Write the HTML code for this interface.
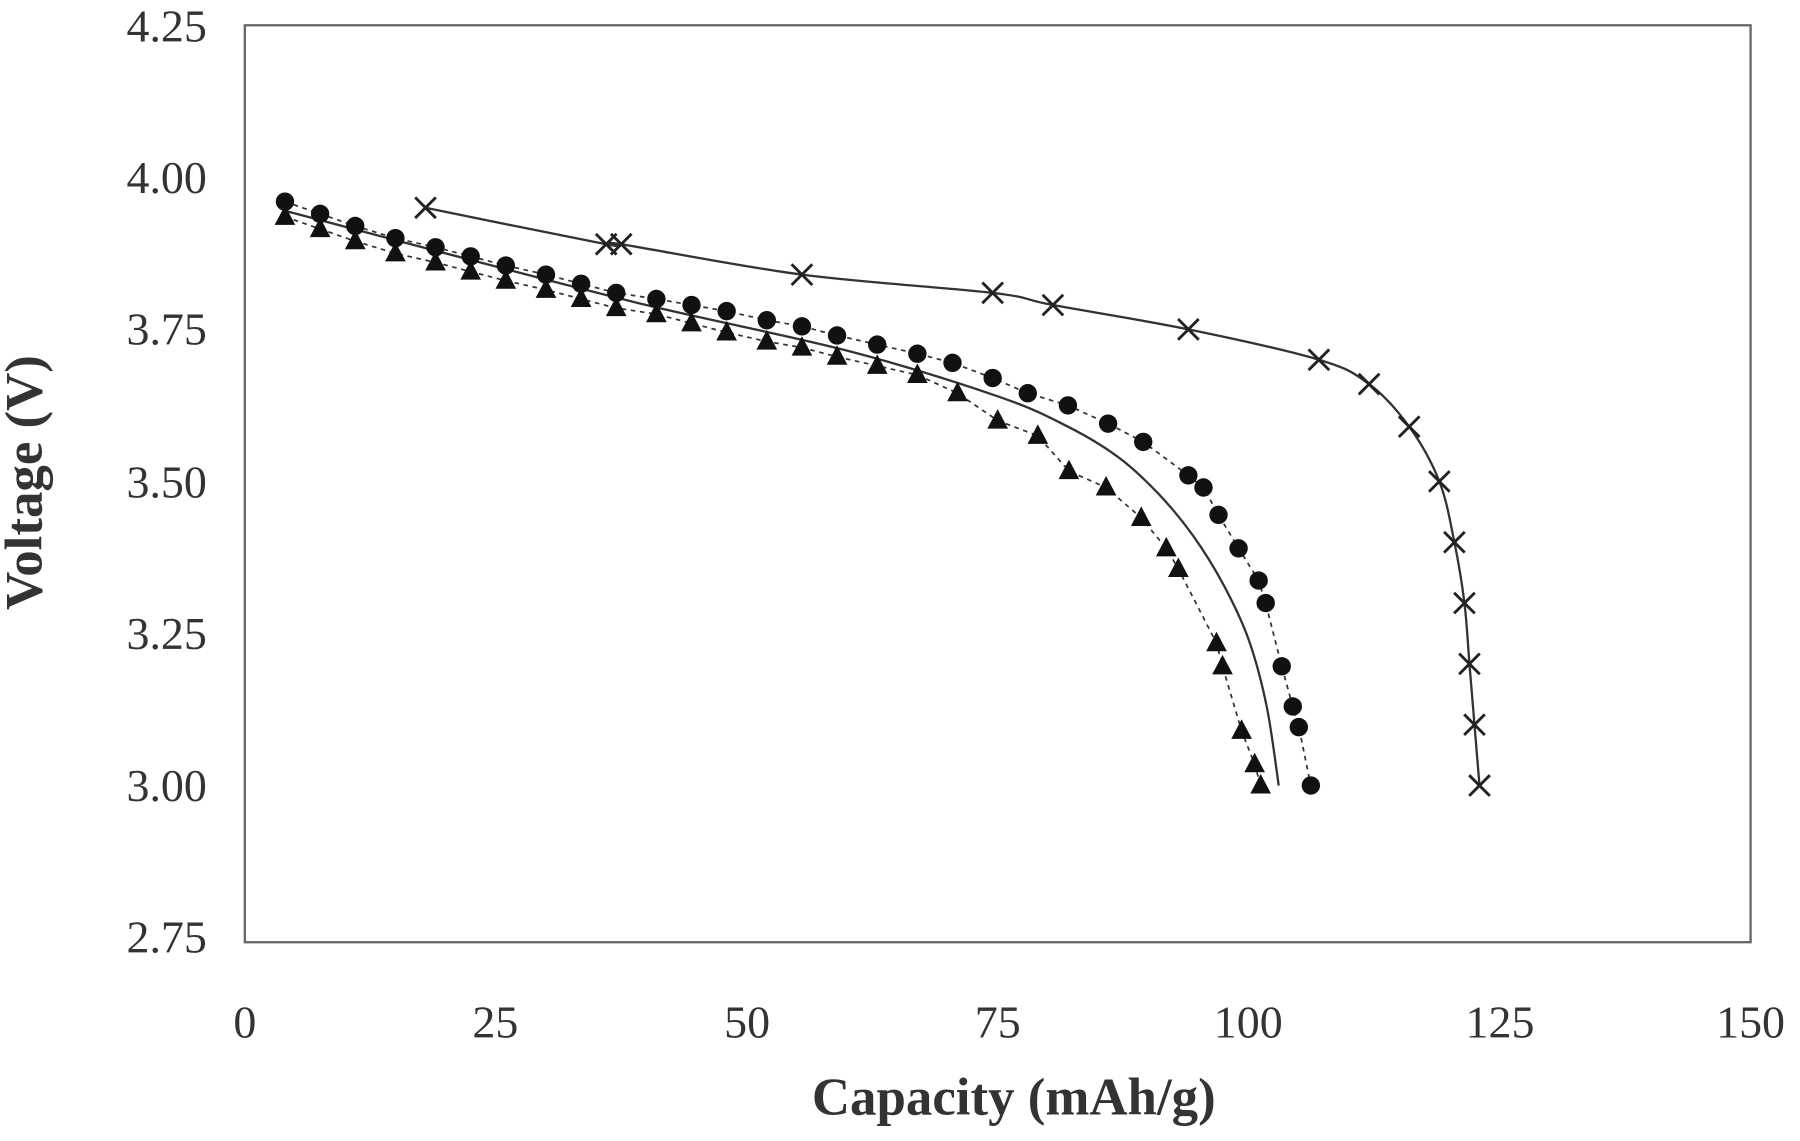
<!DOCTYPE html>
<html><head><meta charset="utf-8"><style>
html,body{margin:0;padding:0;background:#fff;width:1800px;height:1141px;overflow:hidden}
svg{display:block}
text{font-family:"Liberation Serif",serif;fill:#333}
</style></head><body>
<svg id="s" width="1800" height="1141" viewBox="0 0 1566 993" preserveAspectRatio="none">
<rect x="213" y="22" width="1310" height="798" fill="none" stroke="#666" stroke-width="2"/>
<g font-size="40" text-anchor="end">
<text x="180" y="36">4.25</text><text x="180" y="168">4.00</text><text x="180" y="300">3.75</text>
<text x="180" y="433">3.50</text><text x="180" y="565">3.25</text><text x="180" y="697">3.00</text><text x="180" y="829">2.75</text>
</g>
<g font-size="40" text-anchor="middle">
<text x="213" y="903">0</text><text x="431" y="903">25</text><text x="650" y="903">50</text><text x="868" y="903">75</text>
<text x="1086" y="903">100</text><text x="1305" y="903">125</text><text x="1523" y="903">150</text>
</g>
<text x="882" y="970" font-size="46" font-weight="bold" text-anchor="middle">Capacity (mAh/g)</text>
<text transform="translate(36,420) rotate(-90)" font-size="46" font-weight="bold" text-anchor="middle">Voltage (V)</text>
<g id="g"></g>
</svg>
<script>
const X=v=>213+8.733*v, Y=v=>22+(4.25-v)*529.3;
const g=document.getElementById('g');let h='';
const cross=[[18,3.95],[36,3.89],[37.5,3.89],[55.5,3.84],[74.5,3.81],[80.5,3.79],[94,3.75],[107,3.70],[112,3.66],[116,3.59],[119,3.50],[120.5,3.40],[121.5,3.30],[122,3.20],[122.5,3.10],[123,3.00]];
const circ=[[4,3.96],[7.5,3.94],[11,3.92],[15,3.90],[19,3.885],[22.5,3.87],[26,3.855],[30,3.84],[33.5,3.825],[37,3.81],[41,3.80],[44.5,3.79],[48,3.78],[52,3.765],[55.5,3.755],[59,3.74],[63,3.725],[67,3.71],[70.5,3.695],[74.5,3.67],[78,3.645],[82,3.625],[86,3.595],[89.5,3.565],[94,3.51],[95.5,3.49],[97,3.445],[99,3.39],[101,3.337],[101.7,3.30],[103.3,3.196],[104.4,3.13],[105,3.096],[106.2,3.00]];
const tri=[[4,3.935],[7.5,3.915],[11,3.895],[15,3.875],[19,3.86],[22.5,3.845],[26,3.83],[30,3.815],[33.5,3.80],[37,3.785],[41,3.775],[44.5,3.76],[48,3.745],[52,3.73],[55.5,3.72],[59,3.705],[63,3.69],[67,3.675],[71,3.645],[75,3.60],[79,3.575],[82.1,3.517],[85.8,3.49],[89.3,3.44],[91.8,3.39],[93,3.356],[96.8,3.234],[97.4,3.196],[99.3,3.09],[100.6,3.035],[101.2,3.00]];
const mid=[[4,3.945],[20,3.875],[40,3.79],[60,3.715],[75,3.64],[82,3.59],[87,3.54],[91,3.48],[94.5,3.41],[97.5,3.33],[100,3.24],[101.8,3.13],[103,3.00]];
const pl=a=>a.map(p=>X(p[0]).toFixed(1)+','+Y(p[1]).toFixed(1)).join(' ');
function smooth(a){const p=a.map(q=>[X(q[0]),Y(q[1])]);let d=`M${p[0][0]},${p[0][1]}`;for(let i=0;i<p.length-1;i++){const p0=p[i-1]||p[i],p1=p[i],p2=p[i+1],p3=p[i+2]||p2;d+=`C${p1[0]+(p2[0]-p0[0])/6},${p1[1]+(p2[1]-p0[1])/6} ${p2[0]-(p3[0]-p1[0])/6},${p2[1]-(p3[1]-p1[1])/6} ${p2[0]},${p2[1]}`;}return d;}
h+=`<path d="${smooth(cross)}" fill="none" stroke="#333" stroke-width="2"/>`;
h+=`<path d="${smooth(mid)}" fill="none" stroke="#333" stroke-width="2"/>`;
h+=`<polyline points="${pl(circ)}" fill="none" stroke="#333" stroke-width="1.5" stroke-dasharray="4,4"/>`;
h+=`<polyline points="${pl(tri)}" fill="none" stroke="#333" stroke-width="1.5" stroke-dasharray="4,4"/>`;
cross.forEach(p=>{const x=X(p[0]),y=Y(p[1]);h+=`<path d="M${x-9},${y-9}L${x+9},${y+9}M${x-9},${y+9}L${x+9},${y-9}" stroke="#222" stroke-width="2.5"/>`;});
tri.forEach(p=>{const x=X(p[0]),y=Y(p[1]);h+=`<polygon points="${x},${y-10} ${x-9},${y+7} ${x+9},${y+7}" fill="#111"/>`;});
circ.forEach(p=>{h+=`<circle cx="${X(p[0])}" cy="${Y(p[1])}" r="8" fill="#111"/>`;});
g.innerHTML=h;
</script>
</body></html>
